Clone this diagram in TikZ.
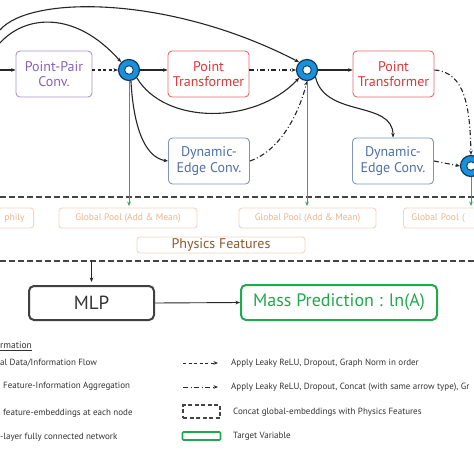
\documentclass[tikz,border=0pt]{standalone}
\usepackage{fontspec}
\setmainfont{PT Sans}
\usetikzlibrary{arrows.meta}
\definecolor{ppc}{HTML}{8A62B5}
\definecolor{ppb}{HTML}{A995CF}
\definecolor{ptc}{HTML}{D93A3A}
\definecolor{ptb}{HTML}{E46A6A}
\definecolor{dec}{HTML}{4F70A6}
\definecolor{deb}{HTML}{7F95BC}
\definecolor{ringblue}{HTML}{1A90D8}
\definecolor{ringdark}{HTML}{0E3B66}
\definecolor{gline}{HTML}{2FAA5A}
\definecolor{gbox}{HTML}{22A84E}
\definecolor{peachb}{HTML}{F2D6C2}
\definecolor{peacht}{HTML}{E9B58E}
\definecolor{brownt}{HTML}{8A5A32}
\definecolor{sepc}{HTML}{444444}
\definecolor{legt}{HTML}{333333}
\tikzset{
  x=1pt,y=-1pt,
  tip/.style={-{Stealth[length=4.5pt,width=3.6pt]}},
  conn/.style={tip,line width=1.1pt,black!85},
  dashconn/.style={conn,dash pattern=on 3pt off 2.5pt},
  dotconn/.style={conn,dash pattern=on 5pt off 2.5pt on 1pt off 2.5pt},
  gconn/.style={tip,line width=1pt,gline},
  boxbase/.style={draw,rounded corners=4pt,line width=0.9pt,align=center,inner sep=2pt,font=\fontsize{14}{15.5}\selectfont},
  ppbox/.style={boxbase,draw=ppb,text=ppc,minimum width=76pt,minimum height=46pt},
  ptbox/.style={boxbase,draw=ptb,text=ptc,minimum width=81pt,minimum height=46pt},
  debox/.style={boxbase,draw=deb,text=dec,minimum width=81pt,minimum height=46pt},
  ring/.style={circle,draw=ringdark,fill=ringblue,line width=1.2pt,minimum size=21pt,inner sep=0pt,
    path picture={\filldraw[fill=white,draw=ringdark,line width=0.9pt] (path picture bounding box.center) circle (4.3pt);}},
  sep/.style={line width=2pt,sepc,dash pattern=on 6pt off 3pt},
  gpool/.style={draw=peachb,text=peacht,rounded corners=3pt,line width=0.9pt,minimum height=20pt,inner ysep=2pt,font=\fontsize{9.5}{11}\selectfont},
  legtext/.style={anchor=west,text=legt,inner sep=0pt,font=\fontsize{9}{10.5}\selectfont},
}
\begin{document}
\begin{tikzpicture}
\useasboundingbox (0,0) rectangle (474,474);
\clip (0,0) rectangle (474,474);
\fill[white] (0,0) rectangle (474,474);

% main nodes
\node[ppbox] (pp) at (54,74) {Point-Pair\\Conv.};
\node[ptbox] (pt1) at (208.5,74) {Point\\Transformer};
\node[ptbox] (pt2) at (393.5,74) {Point\\Transformer};
\node[debox] (de1) at (209,161) {Dynamic-\\Edge Conv.};
\node[debox] (de2) at (393,161) {Dynamic-\\Edge Conv.};
\node[ring] (c1) at (129,70) {};
\node[ring] (c2) at (307,70) {};
\node[ring] (c3) at (471,166) {};

% free ends
\coordinate (in0) at (0,70);
\coordinate (in1) at (0,30);
\coordinate (in2) at (0,43);
\coordinate (gp) at (0,206);
\coordinate (dl1) at (0,197);
\coordinate (dr1) at (474,197);
\coordinate (dl2) at (0,261);
\coordinate (dr2) at (474,261);

% separators
\draw[sep] (dl1) -- (dr1);
\draw[sep] (dl2) -- (dr2);

% connectors
\draw[conn] (in0) -- (pp.west |- in0);
\draw[dashconn] (pp.east |- c1) -- (c1.west);
\draw[conn] (c1.east) -- (pt1.west |- c1);
\draw[dotconn] (pt1.east |- c2) -- (c2.west);
\draw[conn] (c2.east) -- (pt2.west |- c2);
\draw[conn] (in1) .. controls (30,-5) and (170,-5) .. (c2.north west);
\draw[conn] (in2) .. controls (25,15) and (75,10) .. (c1.north west);
\draw[conn] (c1.south east) .. controls (165,125) and (255,125) .. (c2.south west);
\draw[conn] (c1.-80) .. controls (134,135) and (148,158) .. (de1.west);
\draw[dotconn] (de1.east) .. controls (282,150) and (300,110) .. (c2.south);
\draw[conn] (c2.-40) .. controls (325,118) and (393,100) .. (de2.north);
\draw[dotconn] (pt2.east |- c2) .. controls (466,72) and (470,110) .. (c3.north);
\draw[dotconn] (de2.east) -- (c3.west);

% pooling
\node[gpool,anchor=east,text width=60pt,align=right,inner xsep=9pt] (gp0) at (34,218) {phily};
\node[gpool,minimum width=138pt] (gp1) at (128,218) {Global Pool (Add \& Mean)};
\node[gpool,minimum width=137pt] (gp2) at (307.5,218) {Global Pool (Add \& Mean)};
\node[gpool,anchor=west,text width=124pt,align=left,inner xsep=8pt] (gp3) at (403,218) {Global Pool (};
\node[draw=peachb,text=brownt,rounded corners=3pt,line width=0.9pt,minimum width=168pt,minimum height=16pt,inner sep=0pt,font=\fontsize{14}{15}\selectfont] (phys) at (221,245) {Physics Features};

\draw[gconn] (c1.south) -- (c1.south |- gp);
\draw[gconn] (c2.south) -- (c2.south |- gp);
\draw[gconn] (c3.south) -- (c3.south |- gp);

% MLP and prediction
\node[draw=black!75,rounded corners=5pt,line width=2pt,minimum width=125pt,minimum height=34pt,font=\fontsize{19}{20}\selectfont,text=black!80] (mlp) at (91.5,303) {MLP};
\node[draw=gbox,rounded corners=5pt,line width=2pt,minimum width=196pt,minimum height=35pt,font=\fontsize{18}{19}\selectfont,text=gbox] (mass) at (339,302.5) {Mass Prediction : ln(A)};
\draw[conn,line width=0.9pt] (mlp.north |- dl2) -- ([yshift=3pt]mlp.north);
\draw[conn,line width=0.9pt] (mlp.east) -- (mass.west);

% legend
\node[legtext,font=\fontsize{9.5}{11}\selectfont] (lt) at (0,346) {\underline{rmation}};
\node[legtext] (l1) at (0,363) {al Data/Information Flow};
\node[legtext] (l2) at (3,386) {Feature-Information Aggregation};
\node[legtext] (l3) at (3,413) {feature-embeddings at each node};
\node[legtext] (l4) at (0,437) {-layer fully connected network};

\coordinate (s1a) at (183,363);
\coordinate (s1b) at (218,363);
\coordinate (s2a) at (183,387);
\coordinate (s2b) at (218,387);
\draw[dashconn,line width=0.9pt] (s1a) -- (s1b);
\draw[dotconn,line width=0.9pt] (s2a) -- (s2b);
\node[draw=sepc,dashed,line width=1.6pt,dash pattern=on 4pt off 2.5pt,minimum width=37pt,minimum height=13pt,inner sep=0pt] (sbox) at (201.5,411.5) {};
\node[draw=gbox,line width=1.6pt,rounded corners=1pt,minimum width=38pt,minimum height=8pt,inner sep=0pt] (gsamp) at (201.5,436) {};

\node[legtext] (r1) at (231,363) {Apply Leaky ReLU, Dropout, Graph Norm in order};
\node[legtext] (r2) at (231,387) {Apply Leaky ReLU, Dropout, Concat (with same arrow type), Gr};
\node[legtext] (r3) at (233,412) {Concat global-embeddings with Physics Features};
\node[legtext] (r4) at (233,436) {Target Variable};
\end{tikzpicture}
\end{document}
